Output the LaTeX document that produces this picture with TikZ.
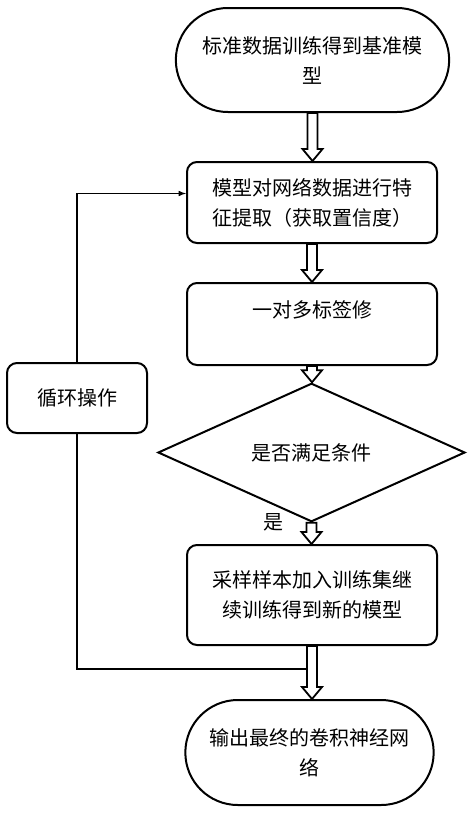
\documentclass[tikz,border=0pt]{standalone}
\usepackage{fontspec}
\newfontfamily\cjk{Noto Sans CJK SC}
\usetikzlibrary{shapes.geometric,shapes.misc,calc}

\tikzset{
  cjktext/.style={font={\cjk\fontsize{20pt}{30pt}\selectfont}},
  box/.style={draw, line width=2pt, rounded corners=10pt, minimum width=250pt, align=center, cjktext},
  terminal/.style={draw, line width=2pt, rounded rectangle, align=center, cjktext},
  decision/.style={draw, line width=2pt, diamond, inner sep=0pt, minimum width=307pt, minimum height=95pt, cjktext},
  hollow/.style={draw, fill=white, line width=1.8pt, line join=miter},
  loopline/.style={line width=1.5pt}
}

% block arrow between two nodes
\newcommand{\blockarrow}[2]{%
  \draw[hollow] ($(#1.south)+(-5,0)$) -- ($(#1.south |- #2.north)+(-5,-12)$) -- ++(-5,0)
    -- (#1.south |- #2.north) -- ++(10,-12) -- ++(-5,0) -- ($(#1.south)+(5,0)$) -- cycle;}

\begin{document}
\begin{tikzpicture}[x=1pt,y=-1pt]
  \useasboundingbox (0,0) rectangle (474,814);

  \node[terminal, minimum width=280pt, minimum height=104pt] (start) at (312.5,60) {标准数据训练得到基准模\\型};
  \node[box, minimum height=81pt] (feat) at (312,202.5) {模型对网络数据进行特\\征提取（获取置信度）};
  \node[box, minimum height=82pt] (relabel) at (312,324) {一对多标签修\\~};
  \node[decision] (cond) at (311.5,452.5) {是否满足条件};
  \node[box, minimum height=100pt] (sample) at (312,595) {采样样本加入训练集继\\续训练得到新的模型};
  \node[terminal, minimum width=255pt, minimum height=105pt] (final) at (309.5,752.5) {输出最终的卷积神经网\\络};
  \node[box, minimum width=140pt, minimum height=70pt] (loop) at (77,398) {循环操作};
  \node[cjktext] (yes) at (273,522) {是};

  % loop back
  \coordinate (join) at ($(sample.south)+(-5,23)$);
  \draw[loopline] (join) -| (loop.south);
  \draw[loopline,->,>=latex] (loop.north) |- ([yshift=9pt]feat.west);

  \blockarrow{start}{feat}
  \blockarrow{feat}{relabel}
  \blockarrow{relabel}{cond}
  \blockarrow{cond}{sample}
  \blockarrow{sample}{final}
\end{tikzpicture}
\end{document}
